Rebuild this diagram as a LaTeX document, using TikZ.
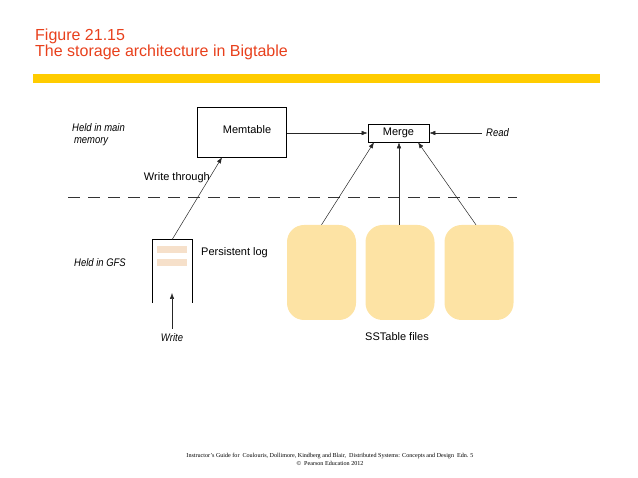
\documentclass[tikz,border=0pt]{standalone}
\usepackage{fontspec}
\setmainfont{Liberation Sans}
\newfontfamily\narrowfont[FakeStretch=0.86]{Liberation Sans}
\newfontfamily\footfont{Liberation Serif}
\usetikzlibrary{arrows,arrows.meta,shapes,positioning}
\definecolor{titlered}{HTML}{E8401C}
\definecolor{baryellow}{HTML}{FFCC00}
\definecolor{tablefill}{HTML}{FDE3A4}
\definecolor{logbar}{HTML}{F6E0CA}

\begin{document}
\begin{tikzpicture}[x=1pt,y=-1pt,
        box/.style={rectangle, draw, line width=0.6pt, font=\fontsize{11}{13}\selectfont, inner sep=0pt},
        sstable/.style={rectangle, fill=tablefill, rounded corners=17pt, minimum width=69pt, minimum height=95pt},
        note/.style={font=\narrowfont\itshape\fontsize{11}{13}\selectfont, inner sep=0pt, anchor=west},
        label/.style={font=\fontsize{11}{13}\selectfont, inner sep=0pt},
        line/.style={draw, line width=0.5pt, black!85, -{Latex[length=6pt,width=4.5pt]}}
    ]
    \useasboundingbox (0,0) rectangle (638,478);

    % Title
    \node[anchor=base west, inner sep=0pt, text=titlered, font=\fontsize{16}{18}\selectfont] (fig) at (35,41) {Figure 21.15};
    \node[anchor=base west, inner sep=0pt, text=titlered, font=\fontsize{16}{18}\selectfont] (title) at (35,57) {The storage architecture in Bigtable};
    \fill[baryellow] (33,74) rectangle (600,83);

    % Main memory
    \node[box, minimum width=89pt, minimum height=50pt] (memtable) at (242,132) {};
    \node[label] at (247,130) {Memtable};
    \node[box, minimum width=61pt, minimum height=18pt] (merge) at (398.5,133) {Merge};
    \node[note] (read) at (486,133) {Read};
    \node[note] (mainmem) at (72,128) {Held in main};
    \node[note, below=5pt of mainmem.south west, anchor=north west] (memory) {\,memory};

    % Divider
    \draw[line width=0.6pt, black!80, dash pattern=on 12pt off 8pt] (68,197) -- (517,197);

    % GFS
    \node[note] (gfs) at (74,263) {Held in GFS};
    \node[minimum width=40pt, minimum height=63pt, inner sep=0pt] (log) at (172,271.5) {};
    \draw[line width=0.6pt] (log.south west) -- (log.north west) -- (log.north east) -- (log.south east);
    \node[fill=logbar, minimum width=30pt, minimum height=7pt, inner sep=0pt] (bar1) at (172,250) {};
    \node[fill=logbar, minimum width=30pt, minimum height=7pt, inner sep=0pt] (bar2) at (172,263) {};
    \node[label, anchor=west] (loglabel) at (201,253) {Persistent log};
    \node[note, anchor=center] (write) at (172,338) {Write};
    \coordinate (login) at (172,293);

    % SSTables
    \node[sstable] (sst1) at (321.5,272.5) {};
    \node[sstable] (sst2) at (400,272.5) {};
    \node[sstable] (sst3) at (479,272.5) {};
    \node[label] (sstlabel) at (397,337) {SSTable files};

    \draw [line] (memtable.east |- merge.west) -- (merge.west);
    \draw [line] (read.west) ++(-4,0) -- (merge.east);
    \draw [line] (log.north) -- (memtable.south -| 222,0);
    \draw [line] (write.north) ++(0,-5) -- (login);
    \draw [line] (sst1.north) -- (merge.south -| 374,0);
    \draw [line] (sst2.north -| 399,0) -- (merge.south -| 399,0);
    \draw [line] (sst3.north -| 476,0) -- (merge.south -| 418,0);

    % Labels
    \node[label, anchor=east] (wt) at (210,178) {Write through};

    % Footer
    \node[font=\footfont\fontsize{6.1}{8}\selectfont, align=center, inner sep=0pt] (foot) at (330,459) {Instructor’s Guide for\ \ Coulouris, Dollimore, Kindberg and Blair,\ \ Distributed Systems: Concepts and Design\ \ Edn. 5\\\copyright\ \ Pearson Education 2012};
\end{tikzpicture}
\end{document}
